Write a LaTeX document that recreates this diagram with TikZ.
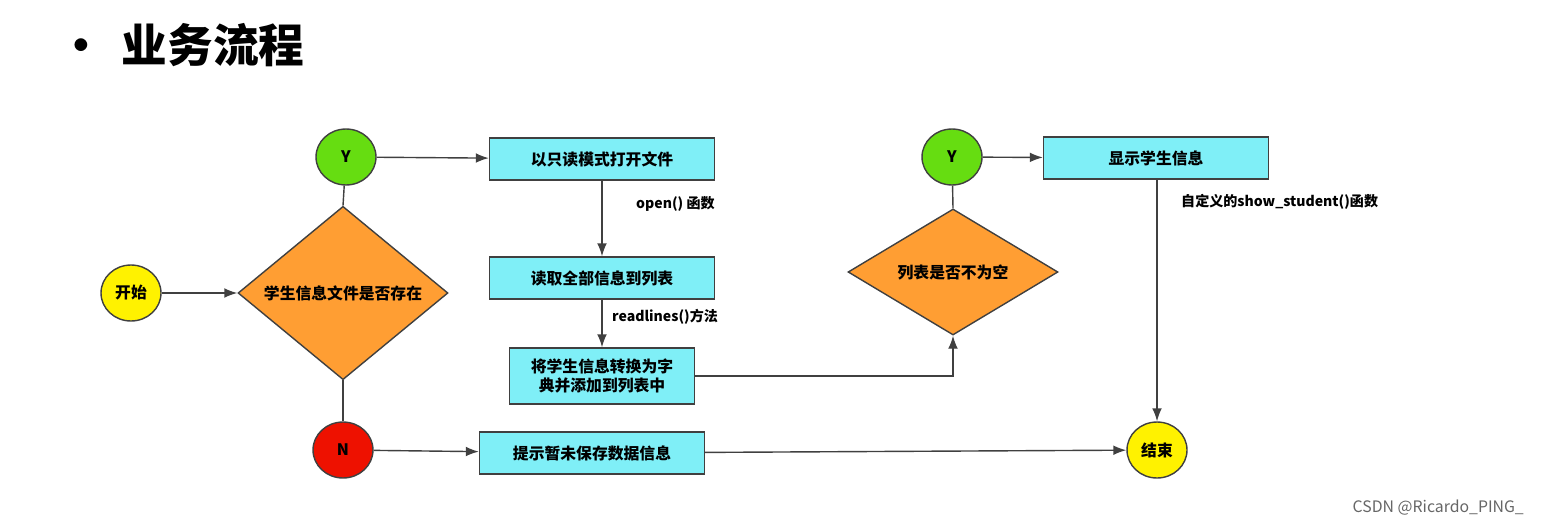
\documentclass[tikz,border=0pt]{standalone}
\usepackage{fontspec}
\setmainfont{Noto Sans CJK SC}
\usetikzlibrary{arrows.meta, shapes.geometric}
\definecolor{boxcyan}{HTML}{7FEFF7}
\definecolor{decorange}{HTML}{FF9E33}
\definecolor{ygreen}{HTML}{66DD11}
\definecolor{nred}{HTML}{EE1100}
\definecolor{endyellow}{HTML}{FFF200}

\begin{document}
\begin{tikzpicture}[x=0.02cm, y=-0.02cm,
                every node/.style={font=\bfseries\fontsize{9}{11}\selectfont},
                box/.style={rectangle, draw=black!75, fill=boxcyan, minimum width=4.5cm, minimum height=0.84cm, thick},
                decide/.style={diamond, draw=black!75, fill=decorange, minimum width=4.2cm, minimum height=2cm, inner sep=0pt, thick},
                term/.style={ellipse, draw=black!75, minimum width=1.2cm, minimum height=1.12cm, inner sep=0pt, thick},
                note/.style={font=\bfseries\fontsize{8}{10}\selectfont, anchor=west},
                flow/.style={-{Latex[length=2.6mm]}, thick, black!75}]
        \useasboundingbox (0,0) rectangle (1544,527);

        %----------------  标题  ----------------
        \node[anchor=west, font=\bfseries\fontsize{26}{30}\selectfont] (title) at (52,45) {•\, 业务流程};

        %----------------  节点  ----------------
        \node[term, fill=endyellow] (start) at (131,293) {开始};
        \node[decide] (exists) at (343,293) {学生信息文件是否存在};
        \node[term, fill=ygreen] (yes1) at (346,157) {Y};
        \node[term, fill=nred] (no1) at (343,450) {N};
        \node[box] (open) at (602,159) {以只读模式打开文件};
        \node[box] (read) at (602,278) {读取全部信息到列表};
        \node[box, minimum width=3.7cm, minimum height=1.12cm, align=center] (conv) at (602,376) {将学生信息转换为字\\典并添加到列表中};
        \node[box] (hint) at (592,453) {提示暂未保存数据信息};
        \node[decide] (notempty) at (953,272) {列表是否不为空};
        \node[term, fill=ygreen] (yes2) at (952,157) {Y};
        \node[box] (show) at (1156,158) {显示学生信息};
        \node[term, fill=endyellow] (finish) at (1157,450) {结束};

        \node[note] (lopen) at (630,204) {open() 函数};
        \node[note] (lread) at (606,317) {readlines()方法};
        \node[note] (lshow) at (1175,202) {自定义的show\_student()函数};
        \node[anchor=east, font=\fontsize{9}{11}\selectfont, text=black!60] (mark) at (1530,508) {CSDN @Ricardo\_PING\_};

        %----------------  连线  ----------------
        \draw[flow] (start) -- (exists);
        \draw[thick, black!75] (exists.north) -- (yes1);
        \draw[thick, black!75] (exists.south) -- (no1);
        \draw[flow] (yes1) -- (open);
        \draw[flow] (open) -- (read);
        \draw[flow] (read) -- (conv);
        \draw[flow] (no1) -- (hint);
        \draw[flow] (hint) -- (finish);
        \draw[flow] (conv.east) -| (notempty.south);
        \draw[thick, black!75] (notempty.north) -- (yes2);
        \draw[flow] (yes2) -- (show);
        \draw[flow] (show.south -| finish) -- (finish);
\end{tikzpicture}
\end{document}
